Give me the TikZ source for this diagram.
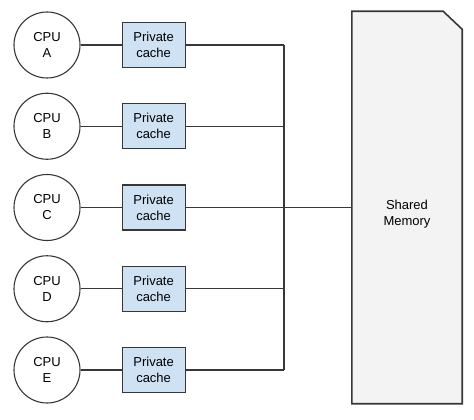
\documentclass[tikz,border=0pt]{standalone}
\usepackage{fontspec}
\setmainfont{Liberation Sans}
\usetikzlibrary{positioning}
\definecolor{cachefill}{RGB}{207,226,243}
\definecolor{memfill}{RGB}{243,243,243}
\definecolor{edge}{RGB}{55,55,55}
\newcommand{\rowstep}{81.25}
\newcommand{\busx}{284}
\tikzset{
    common/.style={draw=edge, line width=1.1pt, align=center, inner sep=0pt, font=\fontsize{13}{16}\selectfont},
    cpu/.style={common, circle, fill=white, minimum size=66pt},
    cache/.style={common, rectangle, fill=cachefill, minimum width=63pt, minimum height=45pt},
    memory/.style={rectangle, inner sep=0pt, minimum width=110pt, minimum height=392pt},
    memline/.style={draw=edge, line width=1.6pt, fill=memfill, line join=miter},
    wire/.style={draw=edge, line width=1.1pt}
}
\begin{document}
\begin{tikzpicture}[x=1pt, y=-1pt]
    \useasboundingbox (0,0) rectangle (474,420);

    % shared memory with its cut corner
    \node[memory] (mem) at (407,207.5) {};
    \path[memline] (mem.south west) -- (mem.north west) -- ([xshift=-19pt]mem.north east)
        -- ([yshift=-18pt]mem.north east) -- (mem.south east) -- cycle;
    \node[font=\fontsize{13}{16}\selectfont, align=center] (memtext) at ([yshift=-7pt]mem.center) {Shared\\Memory};

    \foreach \cpuname [count=\i from 0] in {A,B,C,D,E} {
        \node[cpu] (cpu\cpuname) at (47, 45+\i*\rowstep) {CPU\\\cpuname};
        \node[cache, right=41pt of cpu\cpuname] (cache\cpuname) {Private\\cache};
        \coordinate (bus\cpuname) at (\busx, 45+\i*\rowstep);
        \draw[wire] (cpu\cpuname) -- (cache\cpuname);
        \draw[wire] (cache\cpuname) -- (bus\cpuname);
    }

    \draw[wire] (busA) -- (busE);
    \draw[wire] (busC) -- (mem.west);
\end{tikzpicture}
\end{document}
